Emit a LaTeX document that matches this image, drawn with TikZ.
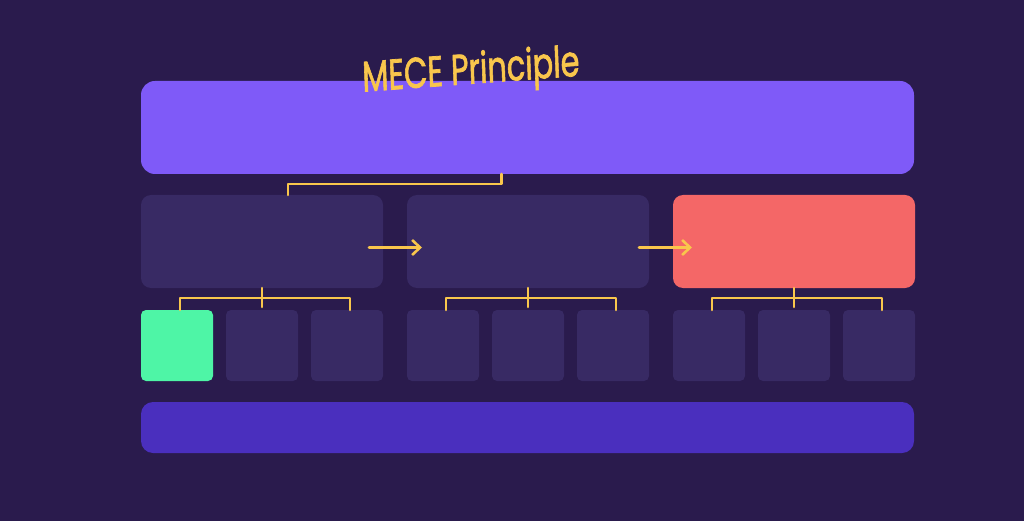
\documentclass[tikz,border=0pt]{standalone}
\usepackage{fontspec}
\newfontfamily\handfont[FakeBold=1.8]{Poppins}
\usepackage{xcolor}
\usetikzlibrary{positioning,arrows.meta}

\definecolor{night}{HTML}{2A1B4D}
\definecolor{lilac}{HTML}{7F5AF8}
\definecolor{box}{HTML}{382A64}
\definecolor{coral}{HTML}{F46767}
\definecolor{mint}{HTML}{4EF5A6}
\definecolor{base}{HTML}{4A2FBE}
\definecolor{marker}{HTML}{F9C64C}

\begin{document}
\begin{tikzpicture}[x=1pt, y=1pt,
		panel/.style={inner sep=0pt, outer sep=0pt, rounded corners=10pt},
		block/.style={panel, fill=box, minimum width=242pt, minimum height=93pt},
		cell/.style={panel, fill=box, minimum width=72pt, minimum height=71pt, rounded corners=5pt},
		link/.style={draw=marker, line width=2.6pt, line cap=round, line join=round},
		flow/.style={link, -{Straight Barb[length=8pt, width=15pt]}}]
		\fill[night] (0,0) rectangle (1024,-521);
		\useasboundingbox (0,0) rectangle (1024,-521);
		\node[panel, fill=lilac, minimum width=773pt, minimum height=93pt, rounded corners=14pt, anchor=north west] (top) at (141,-81) {};
		\node[font=\handfont\fontsize{33}{33}\selectfont, text=marker, xscale=0.92, yscale=1.3, rotate=3] (title) at (471,-73) {MECE Principle};
		\node[block, below=21pt of top.south west, anchor=north west] (mid1) {};
		\node[block, right=24pt of mid1] (mid2) {};
		\node[block, fill=coral, right=24pt of mid2] (mid3) {};
		\foreach \k/\first in {1/mint,2/box,3/box} {
			\node[cell, below=22pt of mid\k] (s\k2) {};
			\node[cell, fill=\first, left=13pt of s\k2] (s\k1) {};
			\node[cell, right=13pt of s\k2] (s\k3) {};
			\draw[link] (mid\k.south) -- ++(0,-19);
			\draw[link] ([xshift=3pt]s\k1.north) |- ([yshift=-10pt]mid\k.south) -| ([xshift=3pt]s\k3.north);
		}
		\node[panel, fill=base, minimum width=773pt, minimum height=51pt, rounded corners=12pt, below=21pt of s11.south west, anchor=north west] (base) {};
		\draw[link] ([xshift=-26pt]top.south) -- ++(0,-10) -| ([xshift=26pt]mid1.north);
		\draw[flow] ([xshift=-14pt, yshift=-6pt]mid1.east) -- ([xshift=15pt, yshift=-6pt]mid2.west);
		\draw[flow] ([xshift=-10pt, yshift=-6pt]mid2.east) -- ([xshift=19pt, yshift=-6pt]mid3.west);
	\end{tikzpicture}
\end{document}
